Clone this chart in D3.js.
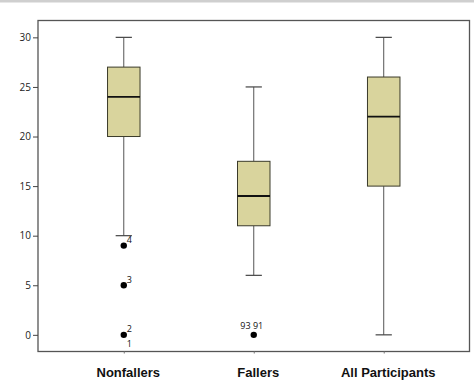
<!DOCTYPE html>
<html><head><meta charset="utf-8">
<script src="https://cdn.jsdelivr.net/npm/d3@7/dist/d3.min.js"></script>
<style>body{margin:0;background:#fff}svg{display:block;font-family:"Open Sans","DejaVu Sans",sans-serif}</style>
</head><body>
<script>
const categories = ["Nonfallers", "Fallers", "All Participants"];
const whiskerLow = [10, 6, 0];
const q1 = [20, 11, 15];
const median = [24, 14, 22];
const q3 = [27, 17.5, 26];
const whiskerHigh = [30, 25, 30];
const outlierCat = ["Nonfallers", "Nonfallers", "Nonfallers", "Fallers"];
const outlierVal = [9, 5, 0, 0];
const outlierLabels = [["4"], ["3"], ["2", "1"], ["93 91"]];
const yTicks = [0, 5, 10, 15, 20, 25, 30];

const W = 474, H = 383;
const L = 38, R = 469.5, T = 20.5, B = 351.5;
const svg = d3.select("body").append("svg").attr("width", W).attr("height", H);
svg.append("rect").attr("x", 0).attr("y", 0).attr("width", W).attr("height", 2.5).attr("fill", "#cfcfcf");

const x = d3.scalePoint().domain(categories).range([L, R]).padding(0.66);
const y = d3.scaleLinear().domain([-1.68, 31.7]).range([B, T]);
const bw = x.step() * 0.25, cw = bw * 0.5;

// frame
svg.append("rect").attr("x", L).attr("y", T).attr("width", R - L).attr("height", B - T)
  .attr("fill", "none").attr("stroke", "#555").attr("stroke-width", 1.3);

// y axis
const ya = svg.append("g").attr("transform", `translate(${L},0)`)
  .call(d3.axisLeft(y).tickValues(yTicks).tickSize(5).tickPadding(2));
ya.select(".domain").remove();
ya.selectAll("line").attr("stroke", "#444");
ya.selectAll("text").attr("font-size", 10).attr("fill", "#222").attr("font-family", "'Open Sans',sans-serif");

// x axis
const xa = svg.append("g").attr("transform", `translate(0,${B})`)
  .call(d3.axisBottom(x).tickSize(2).tickPadding(14));
xa.select(".domain").remove();
xa.selectAll("line").attr("stroke", "#777");
xa.selectAll("text").attr("font-size", 13).attr("font-weight", "bold").attr("fill", "#111")
  .attr("dx", 4);

const g = svg.append("g");
categories.forEach((c, i) => {
  const cx = x(c);
  g.append("line").attr("x1", cx).attr("x2", cx).attr("y1", y(whiskerHigh[i])).attr("y2", y(q3[i]))
    .attr("stroke", "#555").attr("stroke-width", 1);
  g.append("line").attr("x1", cx).attr("x2", cx).attr("y1", y(q1[i])).attr("y2", y(whiskerLow[i]))
    .attr("stroke", "#555").attr("stroke-width", 1);
  [whiskerHigh[i], whiskerLow[i]].forEach(v => {
    g.append("line").attr("x1", cx - cw / 2).attr("x2", cx + cw / 2).attr("y1", y(v)).attr("y2", y(v))
      .attr("stroke", "#444").attr("stroke-width", 1.2);
  });
  g.append("rect").attr("x", cx - bw / 2).attr("y", y(q3[i])).attr("width", bw)
    .attr("height", y(q1[i]) - y(q3[i])).attr("fill", "#d9d49d").attr("stroke", "#3a3a2a").attr("stroke-width", 1);
  g.append("line").attr("x1", cx - bw / 2).attr("x2", cx + bw / 2).attr("y1", y(median[i])).attr("y2", y(median[i]))
    .attr("stroke", "#111").attr("stroke-width", 1.8);
});

outlierVal.forEach((v, i) => {
  const cx = x(outlierCat[i]), cy = y(v);
  g.append("circle").attr("cx", cx).attr("cy", cy).attr("r", 3.2).attr("fill", "#000");
  const labs = outlierLabels[i];
  if (labs[0].includes(" ")) {
    g.append("text").attr("x", cx - 2).attr("y", cy - 6).attr("text-anchor", "middle")
      .attr("font-size", 9).attr("fill", "#111").text(labs[0]);
  } else {
    g.append("text").attr("x", cx + 3).attr("y", cy - 2.5).attr("font-size", 9).attr("fill", "#111").text(labs[0]);
    if (labs[1]) g.append("text").attr("x", cx + 3).attr("y", cy + 12).attr("font-size", 9).attr("fill", "#111").text(labs[1]);
  }
});
</script>
</body></html>
